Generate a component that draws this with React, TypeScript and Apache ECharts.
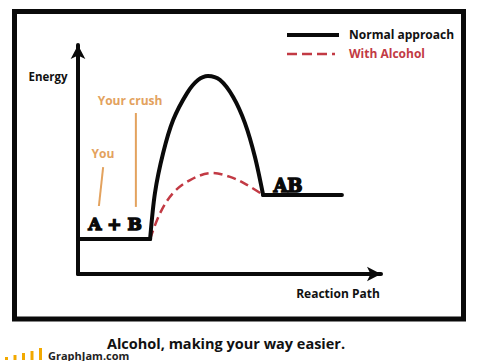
import React, { useEffect, useRef } from "react";
import * as echarts from "echarts";

// Reaction path (x) vs energy (y), both on a 0–100 scale
const reactantLevel: [number, number][] = [[0, 15.3], [23.8, 15.3]];
const productLevel: [number, number][] = [[61.1, 34.5], [87.1, 34.5]];
const normalBarrier: [number, number][] = [
  [23.8, 15.3], [25.4, 35.4], [28.1, 52.8], [31.4, 67.2], [36.0, 79.0], [39.6, 84.7],
  [42.9, 86.5], [46.9, 84.7], [51.2, 77.3], [55.1, 65.9], [58.4, 51.1], [61.1, 34.5],
];
const alcoholBarrier: [number, number][] = [
  [23.8, 15.3], [27.1, 26.6], [31.4, 35.4], [37.0, 41.0], [44.2, 44.1],
  [50.2, 42.4], [55.8, 38.9], [61.1, 34.5],
];
const youPointer: [number, number][] = [[8.3, 46.7], [6.9, 29.7]];
const crushPointer: [number, number][] = [[19.1, 70.3], [19.1, 29.3]];

const seriesNames = ["Normal approach", "With Alcohol"];
const logoBars = [3, 5, 7, 9, 12];

const BLACK = "#0a0a0a";
const RED = "#c23a44";
const ORANGE = "#e3a25e";
const UI_FONT = "'Open Sans', 'Noto Sans', sans-serif";
const SLAB_FONT = "'DejaVu Serif', serif";
const ALCOHOL_DASH = [9, 5];

export default function App() {
  const ref = useRef<HTMLDivElement>(null);

  useEffect(() => {
    document.body.style.margin = "0";
    if (!ref.current) return;
    const chart = echarts.init(ref.current, undefined, { renderer: "svg" });

    const blackLine = { color: BLACK, width: 4, cap: "round" as const, join: "round" as const };

    const option: echarts.EChartsOption = {
      animation: false,
      backgroundColor: "#ffffff",
      grid: { left: 78, right: 97, top: 45, bottom: 87 },
      xAxis: {
        type: "value",
        min: 0,
        max: 100,
        axisLine: { show: true, symbol: ["none", "arrow"], symbolSize: [11, 14], lineStyle: { color: BLACK, width: 4 } },
        axisTick: { show: false },
        axisLabel: { show: false },
        splitLine: { show: false },
      },
      yAxis: {
        type: "value",
        min: 0,
        max: 100,
        axisLine: { show: true, symbol: ["none", "arrow"], symbolSize: [11, 14], lineStyle: { color: BLACK, width: 4 } },
        axisTick: { show: false },
        axisLabel: { show: false },
        splitLine: { show: false },
      },
      series: [
        {
          name: seriesNames[0],
          type: "line",
          data: normalBarrier,
          smooth: 0.3,
          symbol: "none",
          lineStyle: blackLine,
          z: 3,
        },
        {
          name: seriesNames[0],
          type: "line",
          data: reactantLevel,
          symbol: "none",
          lineStyle: blackLine,
          z: 3,
        },
        {
          name: seriesNames[0],
          type: "line",
          data: productLevel,
          symbol: "none",
          lineStyle: blackLine,
          z: 3,
        },
        {
          name: seriesNames[1],
          type: "line",
          data: alcoholBarrier,
          smooth: 0.35,
          symbol: "none",
          lineStyle: { color: RED, width: 2.5, type: ALCOHOL_DASH },
          z: 2,
        },
        {
          name: "You",
          type: "line",
          data: youPointer,
          symbol: "none",
          lineStyle: { color: ORANGE, width: 2 },
          silent: true,
        },
        {
          name: "Your crush",
          type: "line",
          data: crushPointer,
          symbol: "none",
          lineStyle: { color: ORANGE, width: 2 },
          silent: true,
        },
      ],
      graphic: [
        {
          type: "rect",
          shape: { x: 14.5, y: 11.5, width: 449, height: 307.5 },
          style: { fill: "none", stroke: BLACK, lineWidth: 5 },
          silent: true,
        },
        // legend keys
        {
          type: "line",
          shape: { x1: 287, y1: 35, x2: 339, y2: 35 },
          style: { stroke: BLACK, lineWidth: 4 },
        },
        {
          type: "text",
          x: 349,
          y: 34,
          style: { text: seriesNames[0], fill: "#111111", font: `bold 12px ${UI_FONT}`, align: "left", verticalAlign: "middle" },
        },
        {
          type: "line",
          shape: { x1: 287, y1: 54, x2: 335, y2: 54 },
          style: { stroke: RED, lineWidth: 2.5, lineDash: [10, 5] },
        },
        {
          type: "text",
          x: 349,
          y: 53,
          style: { text: seriesNames[1], fill: RED, font: `bold 12px ${UI_FONT}`, align: "left", verticalAlign: "middle" },
        },
        // annotations
        {
          type: "text",
          x: 48,
          y: 76,
          style: { text: "Energy", fill: "#111111", font: `bold 11.5px ${UI_FONT}`, align: "center", verticalAlign: "middle" },
        },
        {
          type: "text",
          x: 338,
          y: 293,
          style: { text: "Reaction Path", fill: "#111111", font: `bold 12px ${UI_FONT}`, align: "center", verticalAlign: "middle" },
        },
        {
          type: "text",
          x: 103,
          y: 153,
          style: { text: "You", fill: ORANGE, font: `bold 12px ${UI_FONT}`, align: "center", verticalAlign: "middle" },
        },
        {
          type: "text",
          x: 130,
          y: 100,
          style: { text: "Your crush", fill: ORANGE, font: `bold 12px ${UI_FONT}`, align: "center", verticalAlign: "middle" },
        },
        {
          type: "text",
          x: 115,
          y: 224,
          style: { text: "A + B", fill: BLACK, stroke: BLACK, lineWidth: 1.4, font: `bold 17px ${SLAB_FONT}`, align: "center", verticalAlign: "middle" },
        },
        {
          type: "text",
          x: 288,
          y: 185,
          style: { text: "AB", fill: BLACK, stroke: BLACK, lineWidth: 1.4, font: `bold 18px ${SLAB_FONT}`, align: "center", verticalAlign: "middle" },
        },
        {
          type: "text",
          x: 226,
          y: 343,
          style: { text: "Alcohol, making your way easier.", fill: "#111111", font: `bold 14.5px ${UI_FONT}`, align: "center", verticalAlign: "middle" },
        },
        {
          type: "group",
          x: 5,
          y: 361,
          children: logoBars.map((h, i) => ({
            type: "rect",
            shape: { x: i * 8.5, y: -h - 1, width: 3, height: h },
            style: { fill: "#f2a900" },
          })),
        },
        {
          type: "text",
          x: 48,
          y: 355,
          style: { text: "GraphJam.com", fill: "#222222", font: `bold 11px ${UI_FONT}`, align: "left", verticalAlign: "middle" },
        },
      ],
    };

    chart.setOption(option);
    return () => chart.dispose();
  }, []);

  return <div ref={ref} style={{ width: 478, height: 361 }} />;
}
